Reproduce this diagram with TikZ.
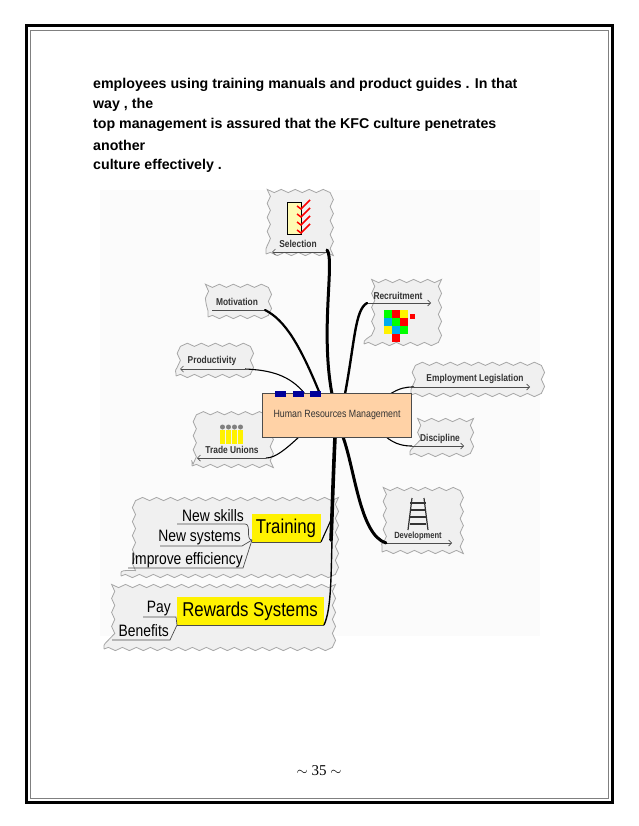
\documentclass[tikz,border=0pt]{standalone}
\usepackage{fontspec}
\setmainfont{Liberation Sans}
\newfontfamily\pgnum{Liberation Serif}
\newfontfamily\narrow[FakeStretch=0.84]{Liberation Sans}
\usetikzlibrary{decorations.pathmorphing,arrows.meta}
\begin{document}
\begin{tikzpicture}[x=1pt,y=-1pt,
 cloud/.style={draw=gray!70,fill=gray!12,line width=0.8pt,decorate,decoration={snake,amplitude=1.6pt,segment length=14pt},inner sep=0pt},
 lbl/.style={font=\narrow\bfseries\fontsize{10}{10}\selectfont,text=black!80,inner sep=1pt},
 big/.style={font=\narrow\fontsize{16.5}{17}\selectfont,inner sep=1pt},
 uline/.style={draw=gray!60!black,line width=0.7pt},
 branch/.style={draw=black,line width=3pt,line cap=round},
 thin/.style={draw=black,line width=1.1pt},
 body/.style={font=\bfseries\fontsize{14.2}{15}\selectfont,anchor=west,inner sep=0pt}]
\useasboundingbox (0,0) rectangle (638,826);
\fill[white] (0,0) rectangle (638,826);
% page frame
\draw[line width=3pt] (26,26) rectangle (612,802);
\draw[gray,line width=0.8pt] (30,30) rectangle (608,798);
% text
\node[body] (t1) at (93,85) {employees using training manuals and product guides . In that};
\node[body] (t2) at (93,105) {way , the};
\node[body] (t3) at (93,125) {top management is assured that the KFC culture penetrates};
\node[body] (t4) at (93,145) {another};
\node[body] (t5) at (93,166) {culture effectively .};
\node[font=\pgnum\fontsize{15}{17}\selectfont] (pg) at (319,771) {\(\sim\) 35 \(\sim\)};
% panel
\fill[gray!3] (100,190) rectangle (540,636);
% clouds
\node[cloud,minimum width=64pt,minimum height=62pt] (selc) at (298,223) {};
\node[cloud,minimum width=60pt,minimum height=28pt] (motc) at (238,303) {};
\node[cloud,minimum width=72pt,minimum height=62pt] (recc) at (400,313) {};
\node[cloud,minimum width=72pt,minimum height=28pt] (proc) at (212,362) {};
\node[cloud,minimum width=124pt,minimum height=30pt] (empc) at (473,380) {};
\node[cloud,minimum width=76pt,minimum height=60pt] (trac) at (230,436) {};
\node[cloud,minimum width=60pt,minimum height=30pt] (disc) at (440,440) {};
\node[cloud,minimum width=76pt,minimum height=68pt] (devc) at (420,518) {};
\node[cloud,minimum width=208pt,minimum height=78pt] (trc) at (225,537) {};
\node[cloud,minimum width=228pt,minimum height=58pt] (rwc) at (218,620) {};
% labels + underlines
\node[lbl] (sel) at (298,244) {Selection};
\draw[uline,-{Straight Barb[length=3pt]}] (327,252) -- (272,252);
\node[lbl] (mot) at (237,302) {Motivation};
\draw[uline] (212,310) -- (265,310);
\node[lbl] (rec) at (398,296) {Recruitment};
\draw[uline,-{Straight Barb[length=3pt]}] (367,303) -- (431,303);
\node[lbl] (pro) at (212,361) {Productivity};
\draw[uline,-{Straight Barb[length=3pt]}] (245,369) -- (180,369);
\node[lbl] (emp) at (475,379) {Employment Legislation};
\draw[uline,-{Straight Barb[length=3pt]}] (414,387) -- (530,387);
\node[lbl] (tu) at (232,450) {Trade Unions};
\draw[uline,-{Straight Barb[length=3pt]}] (266,458) -- (197,458);
\node[lbl] (dis) at (440,439) {Discipline};
\draw[uline,-{Straight Barb[length=3pt]}] (412,446) -- (464,446);
\node[lbl,font=\narrow\bfseries\fontsize{9}{10}\selectfont] (dev) at (418,536) {Development};
\draw[uline,-{Straight Barb[length=3pt]}] (386,543) -- (452,543);
% training
\fill[yellow] (252,514) rectangle (321,542);
\node[big,font=\narrow\fontsize{20}{20}\selectfont] (trn) at (286,528) {Training};
\node[big,anchor=east] (ns) at (245,516) {New skills};
\node[big,anchor=east] (nsy) at (242,538) {New systems};
\node[big,anchor=east] (ie) at (244,560) {Improve efficiency};
\draw[uline] (177,524) -- (245,524) to[out=0,in=180] (252,540);
\draw[uline] (160,546) -- (242,546) -- (252,540);
\draw[uline] (128,568) -- (243,568) -- (252,540);
\draw[uline] (252,542) -- (321,542);
% rewards
\fill[yellow] (177,597) rectangle (324,625);
\node[big,font=\narrow\fontsize{20}{20}\selectfont] (rws) at (250,611) {Rewards Systems};
\node[big,anchor=east] (pay) at (172,609) {Pay};
\node[big,anchor=east] (ben) at (170,631) {Benefits};
\draw[uline] (143,617) -- (176,617) -- (177,625);
\draw[uline] (112,640) -- (170,640) -- (177,625);
\draw[uline] (177,625) -- (324,625);
% branches
\draw[branch] (332,394) .. controls (320,330) and (335,260) .. (327,250);
\draw[branch,line width=2.2pt] (320,394) .. controls (300,345) and (285,320) .. (265,310);
\draw[branch,line width=2.4pt] (345,394) .. controls (355,340) and (355,310) .. (367,303);
\draw[thin] (305,394) .. controls (290,375) and (270,370) .. (245,369);
\draw[thin] (390,394) .. controls (400,388) and (405,387) .. (414,387);
\draw[thin] (385,436) .. controls (395,445) and (405,446) .. (412,446);
\draw[thin] (300,436) .. controls (285,450) and (275,458) .. (266,458);
\draw[branch] (343,437) .. controls (355,470) and (360,535) .. (386,543);
\draw[branch,line width=3.6pt] (335,437) .. controls (333,480) and (332,520) .. (331,540);
\draw[thin,line width=1.4pt] (332,540) .. controls (331,580) and (331,610) .. (324,625);
\draw[thin] (331,520) -- (321,542);
% HRM box
\node[draw=gray!60!black,fill=orange!35!white,minimum width=149pt,minimum height=44pt,font=\narrow\fontsize{10.5}{11}\selectfont,text=black!80,line width=0.8pt] (hrm) at (337,415) {Human Resources Management};
\foreach \xx in {275,293,310}{\fill[blue!60!black] (\xx,391) rectangle ++(11,6);}
% icons
\draw[fill=yellow!30] (287,202) rectangle (301,234);
\foreach \yy in {206,214,222,230}{\draw[red,line width=1.5pt] (297,\yy) -- (301,\yy+3) -- (310,\yy-6);}
\foreach \cc/\xx/\yy in {green/384/310,red/392/310,yellow/400/310,cyan/384/318,green/392/318,red/400/318,yellow/384/326,cyan/392/326,green/400/326,red/392/334}{\fill[\cc] (\xx,\yy) rectangle ++(8,8);}
\fill[red] (410,314) rectangle ++(5,5);
\foreach \xx in {220,226,232,238}{\fill[yellow] (\xx,430) rectangle ++(5,14); \fill[gray] (\xx+2.5,427) circle (2.5);}
\draw[gray!40!black,line width=1.2pt] (412,498) -- (408,530) (424,498) -- (428,530);
\foreach \yy in {503,510,517,524}{\draw[gray!40!black,line width=1.2pt] (410,\yy) -- (426,\yy);}
\end{tikzpicture}
\end{document}
